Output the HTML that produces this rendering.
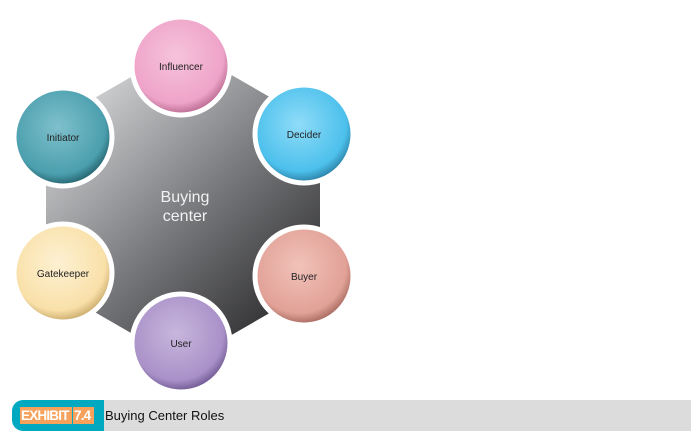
<!DOCTYPE html>
<html><head><style>
body{margin:0;width:691px;height:436px;background:#fff;overflow:hidden;position:relative;font-family:"Liberation Sans",sans-serif}
.cap{position:absolute;left:100px;top:400px;width:591px;height:31px;background:#dcdcdd}
.tl{position:absolute;left:12px;top:400px;width:92px;height:31px;background:#00a9c0;border-radius:11px 0 0 11px}
.ex{position:absolute;top:407px;height:17px;background:#f7a25c;color:#fff;font-weight:bold;font-size:13.5px;line-height:17px;letter-spacing:-0.8px;padding:0 1px}
.t{position:absolute;left:105px;top:407px;font-size:13px;color:#111;line-height:17px}
</style></head><body>
<svg width="691" height="400" style="position:absolute;left:0;top:0">
<defs>
<linearGradient id="g" x1="0.2" y1="0.1" x2="0.85" y2="0.9">
<stop offset="0" stop-color="#cfd0d2"/><stop offset="0.5" stop-color="#7b7c7f"/><stop offset="1" stop-color="#2e2e30"/></linearGradient>
<radialGradient id="pk" cx="0.45" cy="0.4" r="0.6"><stop offset="0" stop-color="#f6c3dc"/><stop offset="0.8" stop-color="#eea3c8"/><stop offset="1" stop-color="#b7688f"/></radialGradient>
<radialGradient id="bl" cx="0.45" cy="0.4" r="0.6"><stop offset="0" stop-color="#8fdcf8"/><stop offset="0.8" stop-color="#4cc0ec"/><stop offset="1" stop-color="#2a7fa3"/></radialGradient>
<radialGradient id="sa" cx="0.45" cy="0.4" r="0.6"><stop offset="0" stop-color="#f1c2b9"/><stop offset="0.8" stop-color="#e1a197"/><stop offset="1" stop-color="#a4665c"/></radialGradient>
<radialGradient id="pu" cx="0.45" cy="0.4" r="0.6"><stop offset="0" stop-color="#c8b6dc"/><stop offset="0.8" stop-color="#a991c8"/><stop offset="1" stop-color="#6d5690"/></radialGradient>
<radialGradient id="ye" cx="0.45" cy="0.4" r="0.6"><stop offset="0" stop-color="#fdf1d2"/><stop offset="0.8" stop-color="#f9e0a9"/><stop offset="1" stop-color="#c9a96a"/></radialGradient>
<radialGradient id="te" cx="0.45" cy="0.4" r="0.6"><stop offset="0" stop-color="#7fc0cc"/><stop offset="0.8" stop-color="#4b9fae"/><stop offset="1" stop-color="#23606b"/></radialGradient>
</defs>
<polygon points="183,47 320,126 320,284 183,363 46,284 46,126" fill="url(#g)" stroke="#fff" stroke-width="0"/>
<g stroke="#fff" stroke-width="5">
<circle cx="181" cy="66" r="49" fill="url(#pk)"/>
<circle cx="304" cy="134" r="49" fill="url(#bl)"/>
<circle cx="304" cy="276" r="49" fill="url(#sa)"/>
<circle cx="181" cy="343" r="49" fill="url(#pu)"/>
<circle cx="63" cy="273" r="49" fill="url(#ye)"/>
<circle cx="63" cy="137" r="49" fill="url(#te)"/>
</g>
<g font-family="Liberation Sans, sans-serif" font-size="10" fill="#222" text-anchor="middle">
<text x="181" y="70">Influencer</text>
<text x="304" y="138">Decider</text>
<text x="304" y="280">Buyer</text>
<text x="181" y="347">User</text>
<text x="63" y="277">Gatekeeper</text>
<text x="63" y="141">Initiator</text>
</g>
<g font-family="Liberation Sans, sans-serif" font-size="16" fill="#f2f2f2" text-anchor="middle">
<text x="185" y="202">Buying</text>
<text x="185" y="221">center</text>
</g>
</svg>
<div class="cap"></div><div class="tl"></div>
<div class="ex" style="left:20px;width:50px">EXHIBIT</div>
<div class="ex" style="left:73px;width:19px">7.4</div>
<div class="t">Buying Center Roles</div>
</body></html>
